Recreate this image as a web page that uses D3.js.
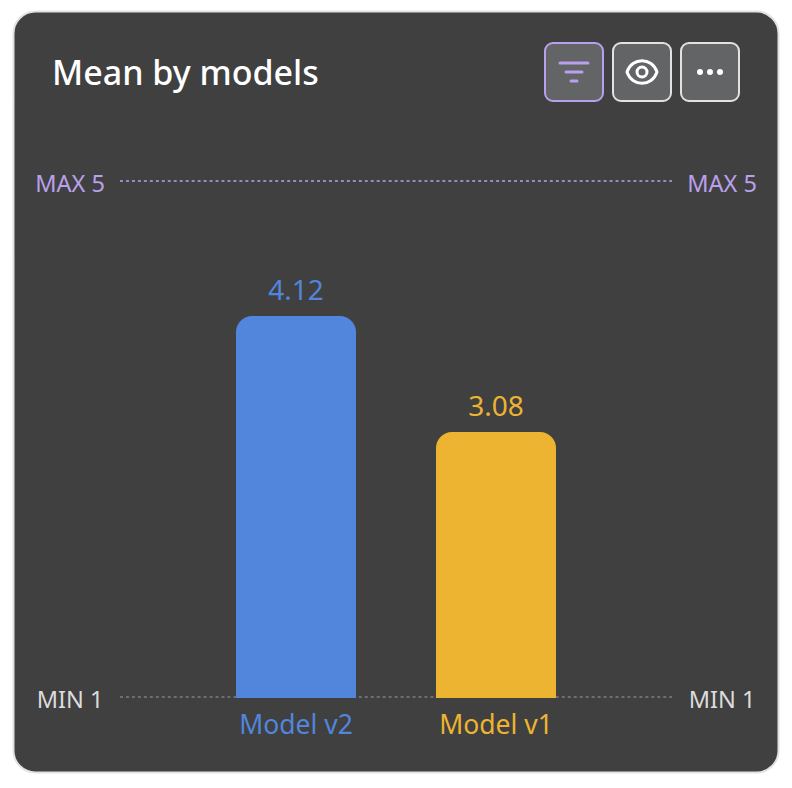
<!DOCTYPE html>
<html>
<head>
<meta charset="utf-8">
<script src="https://d3js.org/d3.v7.min.js"></script>
<style>
  html, body { margin: 0; padding: 0; background: #fff; }
  svg { display: block; }
  text { font-family: "Noto Sans", sans-serif; }
</style>
</head>
<body>
<svg id="vis"></svg>
<script>
  // data
  var categories = ["Model v2", "Model v1"];
  var meanValues = [4.12, 3.08];
  var barColors = ["#5285dc", "#ecb431"];
  var limitValues = [5, 1];
  var limitLabels = ["MAX 5", "MIN 1"];
  var limitColors = ["#b9a0ec", "#dcdcdc"];
  var limitLineColors = ["#b9a0ec", "#7d7d7d"];

  var width = 792, height = 788;
  var svg = d3.select("#vis").attr("width", width).attr("height", height);

  // card
  svg.append("rect")
    .attr("x", 13.5).attr("y", 11.5)
    .attr("width", 765).attr("height", 761)
    .attr("rx", 22)
    .attr("fill", "#404040")
    .attr("stroke", "#e2e2e2")
    .attr("stroke-width", 2);

  svg.append("text")
    .attr("x", 52).attr("y", 85)
    .attr("font-size", 34)
    .attr("font-weight", 500)
    .attr("fill", "#ffffff")
    .text("Mean by models");

  // scales
  var xscale = d3.scaleBand()
    .domain(categories)
    .range([236, 556])
    .paddingInner(0.4);

  // the reference lines and the bars don't share a scale in the original
  var limitScale = d3.scaleLinear().domain([1, 5]).range([697, 181]);
  var barScale = d3.scaleLinear().domain([0.694, 4.12]).range([698, 316]);

  // limit lines
  limitValues.forEach(function(v, i) {
    svg.append("line")
      .attr("x1", 120).attr("x2", 672)
      .attr("y1", limitScale(v)).attr("y2", limitScale(v))
      .attr("stroke", limitLineColors[i])
      .attr("stroke-width", 1.5)
      .attr("stroke-dasharray", "3 2.97");
    [70, 722].forEach(function(x) {
      svg.append("text")
        .attr("x", x).attr("y", limitScale(v) + 11)
        .attr("text-anchor", "middle")
        .attr("font-size", 23.5)
        .attr("fill", limitColors[i])
        .text(limitLabels[i]);
    });
  });

  // bars, rounded at the top only
  function barPath(d, i) {
    var x0 = xscale(categories[i]), x1 = x0 + xscale.bandwidth();
    var top = barScale(d), bottom = barScale.range()[0], r = 16;
    var p = d3.path();
    p.moveTo(x0, bottom);
    p.lineTo(x0, top + r);
    p.arcTo(x0, top, x0 + r, top, r);
    p.lineTo(x1 - r, top);
    p.arcTo(x1, top, x1, top + r, r);
    p.lineTo(x1, bottom);
    p.closePath();
    return p.toString();
  }

  svg.selectAll(".bar")
    .data(meanValues)
    .enter().append("path")
    .attr("class", "bar")
    .attr("d", barPath)
    .attr("fill", function(d, i) { return barColors[i]; });

  svg.selectAll(".value")
    .data(meanValues)
    .enter().append("text")
    .attr("class", "value")
    .attr("x", function(d, i) { return xscale(categories[i]) + xscale.bandwidth() / 2; })
    .attr("y", function(d) { return barScale(d) - 16; })
    .attr("text-anchor", "middle")
    .attr("font-size", 28)
    .attr("fill", function(d, i) { return barColors[i]; })
    .text(function(d) { return d3.format(".2f")(d); });

  svg.selectAll(".cat")
    .data(categories)
    .enter().append("text")
    .attr("class", "cat")
    .attr("x", function(d) { return xscale(d) + xscale.bandwidth() / 2; })
    .attr("y", 734)
    .attr("text-anchor", "middle")
    .attr("font-size", 26.5)
    .attr("fill", function(d, i) { return barColors[i]; })
    .text(function(d) { return d; });

  // header buttons
  var purple = "#b9a0ec", light = "#e2e2e2";
  function button(x, color) {
    return svg.append("rect")
      .attr("x", x).attr("y", 43)
      .attr("width", 58).attr("height", 58)
      .attr("rx", 8)
      .attr("fill", "#636466")
      .attr("stroke", color)
      .attr("stroke-width", 2);
  }
  button(545, purple);
  button(613, light);
  button(681, light);

  // filter icon
  [[560, 588, 63], [566, 582, 72], [571, 577, 81]].forEach(function(b) {
    svg.append("line")
      .attr("x1", b[0]).attr("x2", b[1])
      .attr("y1", b[2]).attr("y2", b[2])
      .attr("stroke", purple)
      .attr("stroke-width", 3)
      .attr("stroke-linecap", "round");
  });

  // eye icon
  svg.append("path")
    .attr("d", "M627 72 C632 57 652 57 657 72 C652 87 632 87 627 72 Z")
    .attr("fill", "none")
    .attr("stroke", "#fff")
    .attr("stroke-width", 3)
    .attr("stroke-linejoin", "round");
  svg.append("circle")
    .attr("cx", 642).attr("cy", 72).attr("r", 5)
    .attr("fill", "none")
    .attr("stroke", "#fff")
    .attr("stroke-width", 3);

  // dots icon
  [700, 710, 720].forEach(function(x) {
    svg.append("circle").attr("cx", x).attr("cy", 72).attr("r", 3).attr("fill", "#fff");
  });
</script>
</body>
</html>
